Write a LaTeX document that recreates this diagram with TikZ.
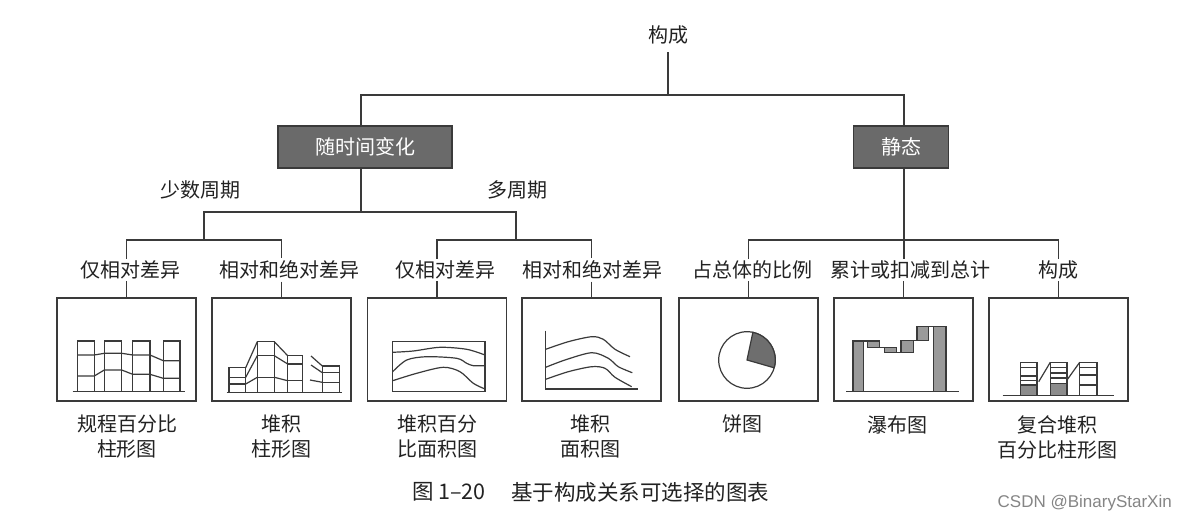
\documentclass[tikz,border=0pt]{standalone}
\usepackage{fontspec}
\newfontfamily\cjk{Noto Sans CJK SC}
\newfontfamily\wmfont{Liberation Sans}
\definecolor{linec}{HTML}{3A3A3A}
\definecolor{boxfill}{HTML}{6A6A6A}
\definecolor{txt}{HTML}{222222}
\definecolor{wfgray}{HTML}{9A9A9A}
\definecolor{piegray}{HTML}{6E6E6E}
\definecolor{stgray}{HTML}{8C8C8C}
\begin{document}
\begin{tikzpicture}[x=1pt,y=-1pt,
  every node/.style={font=\cjk\fontsize{20}{25}\selectfont, text=txt},
  conn/.style={draw=linec, line width=1.3pt},
  cat/.style={draw=linec, fill=boxfill, line width=1.2pt, text=white, minimum height=42pt, inner sep=0pt},
  lbl/.style={inner sep=2pt},
  panel/.style={draw=linec, line width=1.4pt, minimum width=139pt, minimum height=103pt, inner sep=0pt},
  bcap/.style={inner sep=0pt, align=center, anchor=north},
  icon/.style={draw=linec, line width=1.2pt},
  captxt/.style={inner sep=0pt, anchor=west, font=\cjk\fontsize{21.5}{24}\selectfont},
]
\useasboundingbox (0,0) rectangle (1179,522);
\fill[white] (0,0) rectangle (1179,522);

% top level
\node[lbl, inner sep=8pt] (root) at (668,35) {构成};
\node[cat, minimum width=174pt] (time) at (365,147) {随时间变化};
\node[cat, minimum width=95pt] (static) at (901,147) {静态};
\coordinate (j0) at (668,95);
\coordinate (jT) at (361,212);
\coordinate (a1) at (204,240);
\coordinate (a2) at (516,240);
\coordinate (b) at (904,240);

\node[lbl] (few) at (200,190) {少数周期};
\node[lbl] (many) at (517,190) {多周期};

% panels
\node[panel] (p1) at (126.5,349.5) {};
\node[panel] (p2) at (281.5,349.5) {};
\node[panel] (p3) at (437,349.5) {};
\node[panel] (p4) at (591.5,349.5) {};
\node[panel] (p5) at (748.5,349.5) {};
\node[panel] (p6) at (903.5,349.5) {};
\node[panel] (p7) at (1058.5,349.5) {};

% level labels
\node[lbl] (l1) at (130,270) {仅相对差异};
\node[lbl] (l2) at (289,270) {相对和绝对差异};
\node[lbl] (l3) at (445,270) {仅相对差异};
\node[lbl] (l4) at (592,270) {相对和绝对差异};
\node[lbl] (l5) at (752,270) {占总体的比例};
\node[lbl] (l6) at (910,270) {累计或扣减到总计};
\node[lbl] (l7) at (1058,270) {构成};

% connectors
\draw[conn] (root.south) -- (j0);
\draw[conn] ([xshift=-4pt]time.north) |- (j0) -| (static.north -| b);
\draw[conn] ([xshift=-4pt]time.south) -- (jT);
\draw[conn] (a1) |- (jT) -| (a2);
\draw[conn] (l1.north -| p1.north) |- (a1) -| (l2.north -| p2.north);
\draw[conn] (l3.north -| p3.north) |- (a2) -| (l4.north -| p4.north);
\draw[conn] (static.south -| b) -- (b);
\draw[conn] (l5.north -| p5.north) |- (b) -| (l7.north -| p7.north);
\draw[conn] (b) -- (l6.north -| b);
\foreach \i in {1,...,7} \draw[conn] (l\i.south -| p\i.north) -- (p\i.north);

% bottom captions
\node[bcap] (c1) at (127,415) {规程百分比\\柱形图};
\node[bcap] (c2) at (281,415) {堆积\\柱形图};
\node[bcap] (c3) at (437,415) {堆积百分\\比面积图};
\node[bcap] (c4) at (590,415) {堆积\\面积图};
\node[bcap] (c5) at (742,415) {饼图};
\node[bcap] (c6) at (897,415) {瀑布图};
\node[bcap] (c7) at (1057,415) {复合堆积\\百分比柱形图};

\node[captxt] (capnum) at (412,492) {图 1–20};
\node[captxt] (captitle) at (511,492) {基于构成关系可选择的图表};
\node[inner sep=0pt, anchor=east, text=black!48, font=\wmfont\fontsize{17}{19}\selectfont] (wm) at (1172,503) {CSDN @BinaryStarXin};

% ---- icon 1: 100% stacked columns
\draw[icon] (72.7,391.7) -- (185,391.7);
\foreach \a/\b in {77.3/94.3,104.3/121.7,132.7/150,163.3/180}
  \draw[icon] (\a,391.7) rectangle (\b,341);
\draw[icon] (77.3,355) -- (94.3,355) -- (104.3,353.3) -- (121.7,353.3) -- (132.7,355) -- (150,355) -- (163.3,360.7) -- (180,360.7);
\draw[icon] (77.3,376) -- (94.3,376) -- (104.3,370) -- (121.7,370) -- (132.7,374.3) -- (150,374.3) -- (163.3,378.3) -- (180,378.3);

% ---- icon 2: stacked columns
\draw[icon] (226.7,392.3) -- (341.7,392.3);
\draw[icon] (229,392.3) rectangle (245.7,367.7);
\draw[icon] (229,377.3) -- (245.7,377.3) (229,384) -- (245.7,384);
\draw[icon] (257.3,392.3) rectangle (274.3,341.7);
\draw[icon] (257.3,355.7) -- (274.3,355.7) (257.3,377.3) -- (274.3,377.3);
\draw[icon] (287.7,392.3) rectangle (302.7,355.7);
\draw[icon] (287.7,364) -- (302.7,364) (287.7,380.7) -- (302.7,380.7);
\draw[icon] (245.7,367.7) -- (257.3,341.7) (245.7,377.3) -- (257.3,355.7) (245.7,384) -- (257.3,377.3);
\draw[icon] (274.3,341.7) -- (287.7,355.7) (274.3,355.7) -- (287.7,364) (274.3,377.3) -- (287.7,380.7);
\draw[icon] (311,356) -- (322.3,366) (311,365) -- (322.3,372.7) (310,380) -- (322.3,382.3);
\draw[icon] (322.3,392.3) rectangle (339.3,366);
\draw[icon] (322.3,372.7) -- (339.3,372.7) (322.3,382.3) -- (339.3,382.3);

% ---- icon 3: 100% stacked area
\draw[icon] (392.7,341.7) rectangle (485,391.7);
\draw[icon] plot[smooth] coordinates {(392.7,352.3) (413.3,351) (440,347.3) (466.7,349.3) (485,355)};
\draw[icon] plot[smooth] coordinates {(392.7,371.7) (406.7,360) (426.7,356.7) (456.7,358.3) (466.7,363.3) (473.3,365.7) (485,365.7)};
\draw[icon] plot[smooth] coordinates {(392.7,380.7) (416.7,373.3) (443.3,367.3) (460,371.7) (473.3,383.3) (485,389)};

% ---- icon 4: stacked area
\draw[icon] (545.7,330.7) -- (545.7,389) -- (638.3,389);
\draw[icon] plot[smooth] coordinates {(545.7,349.3) (568.3,341.7) (591.7,336.7) (603.3,339.3) (615,349.3) (630,356.7)};
\draw[icon] plot[smooth] coordinates {(545.7,367.3) (565,360) (591.7,352.7) (608.3,358.3) (618.3,366.7) (632.3,372.7)};
\draw[icon] plot[smooth] coordinates {(545.7,379.3) (568.3,371.7) (591.7,366.7) (605,368.3) (615,377.3) (631.7,386.7)};

% ---- icon 5: pie
\draw[icon] (747,360) circle[radius=28.3];
\filldraw[icon, fill=piegray] (747,360) -- ++(-78:28.3) arc[start angle=-78, end angle=16, radius=28.3] -- cycle;

% ---- icon 6: waterfall
\draw[icon] (846.3,391.7) -- (958.7,391.7);
\filldraw[icon, fill=wfgray] (853,391.7) rectangle (863.7,341);
\filldraw[icon, fill=wfgray] (867.7,341) rectangle (879.7,347.3);
\filldraw[icon, fill=wfgray] (884.3,347.3) rectangle (896.3,352.3);
\filldraw[icon, fill=wfgray] (901,340.7) rectangle (913.7,352.3);
\filldraw[icon, fill=wfgray] (917,326.7) rectangle (928.7,340.7);
\filldraw[icon, fill=wfgray] (933.7,326.7) rectangle (946,391.7);
\draw[icon] (863.7,341) -- (867.7,341) (879.7,347.3) -- (884.3,347.3) (896.3,352.3) -- (901,352.3) (913.7,340.7) -- (917,340.7) (928.7,326.7) -- (933.7,326.7);

% ---- icon 7: combined stacked 100% columns
\filldraw[icon, fill=stgray] (1020.3,385) rectangle (1037,395.7);
\filldraw[icon, fill=stgray] (1050.3,383.3) rectangle (1067,395.7);
\draw[icon] (1020.3,362.3) rectangle (1037,395.7);
\draw[icon] (1050.3,362.3) rectangle (1067,395.7);
\draw[icon] (1079.7,362.3) rectangle (1097,395.7);
\draw[icon] (1020.3,367.3) -- (1037,367.3) (1020.3,376) -- (1037,376) (1020.3,380.7) -- (1037,380.7);
\draw[icon] (1050.3,367.3) -- (1067,367.3) (1050.3,373) -- (1067,373) (1050.3,378) -- (1067,378);
\draw[icon] (1079.7,367.3) -- (1097,367.3) (1079.7,375) -- (1097,375) (1079.7,385) -- (1097,385);
\draw[icon] (1038.7,381.7) -- (1050.3,362.3) (1067,380) -- (1079.7,362.3);
\draw[icon] (1002.7,395.7) -- (1113.7,395.7);
\end{tikzpicture}
\end{document}
